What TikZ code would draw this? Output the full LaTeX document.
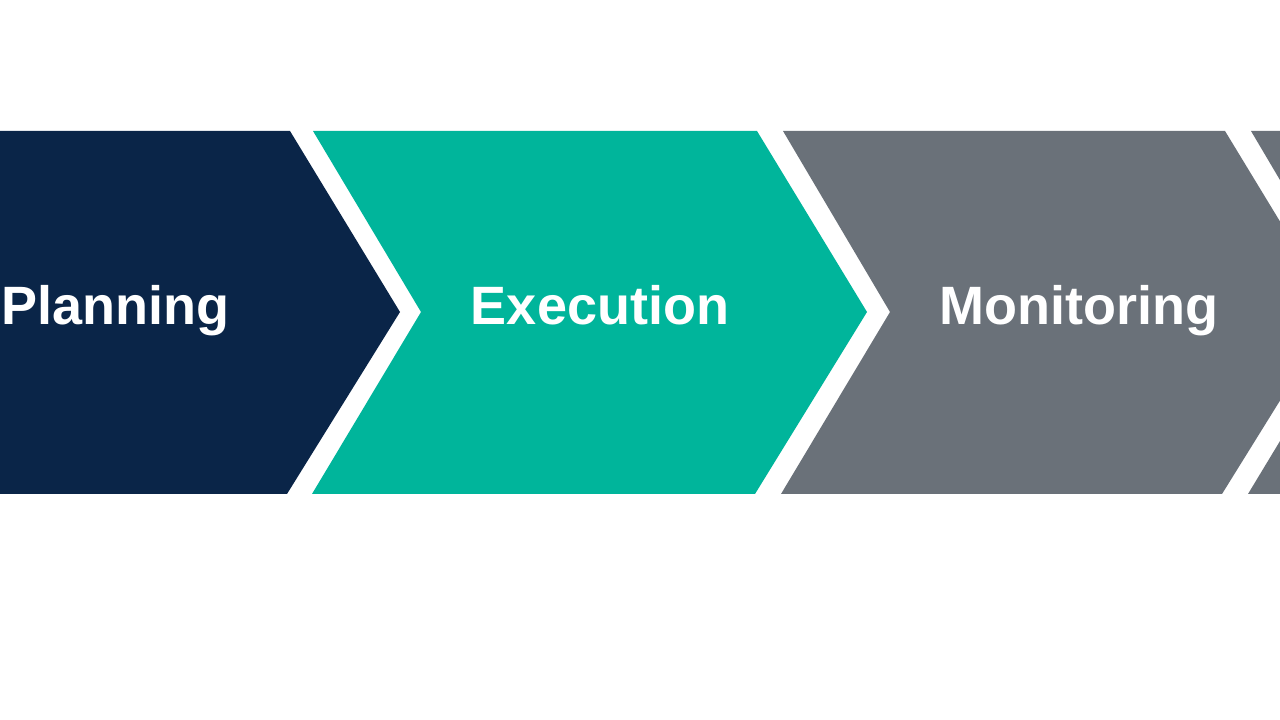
\documentclass[tikz,border=0pt]{standalone}
\usepackage{fontspec}
\setmainfont{Liberation Sans}
\begin{document}
\begin{tikzpicture}[x=1pt,y=1pt,
  lbl/.style={text=white,font=\bfseries\fontsize{54}{58}\selectfont,inner sep=0pt,anchor=base}]
\useasboundingbox (0,0) rectangle (1280,720);
\fill[white] (0,0) rectangle (1280,720);
\begin{scope}
\clip (0,0) rectangle (1280,720);
\fill[fill={rgb,255:red,10;green,37;blue,72}] (-20,589) -- (290,589) -- (400,408) -- (287,226) -- (-20,226) -- cycle;
\fill[fill={rgb,255:red,0;green,181;blue,155}] (313,589) -- (757,589) -- (867,408) -- (755,226) -- (312,226) -- (421,408) -- cycle;
\fill[fill={rgb,255:red,106;green,113;blue,121}] (783,589) -- (1225,589) -- (1335,408) -- (1222,226) -- (781,226) -- (890,408) -- cycle;
\fill[fill={rgb,255:red,106;green,113;blue,121}] (1251,589) -- (1400,589) -- (1400,226) -- (1248,226) -- (1358,408) -- cycle;
\end{scope}
\node[lbl] (p) at (115,395) {Planning};
\node[lbl] (e) at (600,395) {Execution};
\node[lbl] (m) at (1079,395) {Monitoring};
\end{tikzpicture}
\end{document}
